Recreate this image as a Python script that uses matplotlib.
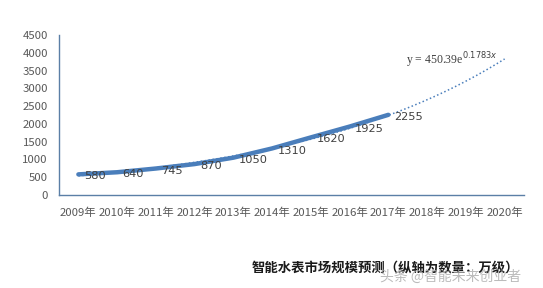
import numpy as np
import matplotlib.pyplot as plt

plt.rcParams['font.family'] = ['Noto Sans CJK SC', 'DejaVu Sans']

years = ['2009年', '2010年', '2011年', '2012年', '2013年', '2014年',
         '2015年', '2016年', '2017年', '2018年', '2019年', '2020年']
values = [580, 640, 745, 870, 1050, 1310, 1620, 1925, 2255]
# trendline shown in the chart: y = 450.39 e^(0.1783x)
trend_a = 450.39
trend_b = 0.1783

fig = plt.figure(figsize=(5.43, 2.88), dpi=100)
ax = fig.add_axes([59/543, 93/288, 465/543, 160/288])

xi = np.arange(len(values))
ax.plot(xi, values, color='#4a7ebb', lw=3.2, solid_capstyle='round', zorder=3)

xt = np.linspace(0, len(years) - 1, 200)
ax.plot(xt, trend_a * np.exp(trend_b * (xt + 1)), color='#4a7ebb', lw=1.1,
        ls=(0, (1, 1.6)), zorder=2)

for x, v in zip(xi, values):
    ax.annotate(str(v), (x, v), xytext=(4, -1.5), textcoords='offset points',
                ha='left', va='center', fontsize=8.2, color='#404040',
                family=['DejaVu Sans'], zorder=4)

ax.text(8.45, 3800, 'y = 450.39e$^{0.1783x}$', fontsize=8.5, color='#404040',
        family=['Liberation Serif'], ha='left', va='center')

ax.set_xlim(-0.5, len(years) - 0.5)
ax.set_ylim(0, 4500)
ax.set_yticks(np.arange(0, 4501, 500))
ax.set_xticks(np.arange(len(years)))
ax.set_xticklabels(years)
ax.tick_params(length=0, labelsize=8.2, colors='#595959')
ax.tick_params(axis='x', pad=9)
ax.tick_params(axis='y', pad=8)
for s in ['top', 'right']:
    ax.spines[s].set_visible(False)
for s in ['left', 'bottom']:
    ax.spines[s].set_color('#5b7fa6')
    ax.spines[s].set_linewidth(1.0)

fig.text(252/543, 1 - 268/288, '智能水表市场规模预测（纵轴为数量：万级）',
         fontsize=9.6, fontweight='bold', color='#1a1a1a', ha='left', va='center')
fig.text(380/543, 1 - 277/288, '头条 @智能未来创业者', fontsize=10,
         color='#aaaaaa', alpha=0.8, ha='left', va='center')

fig.savefig('out.png', dpi=100)
